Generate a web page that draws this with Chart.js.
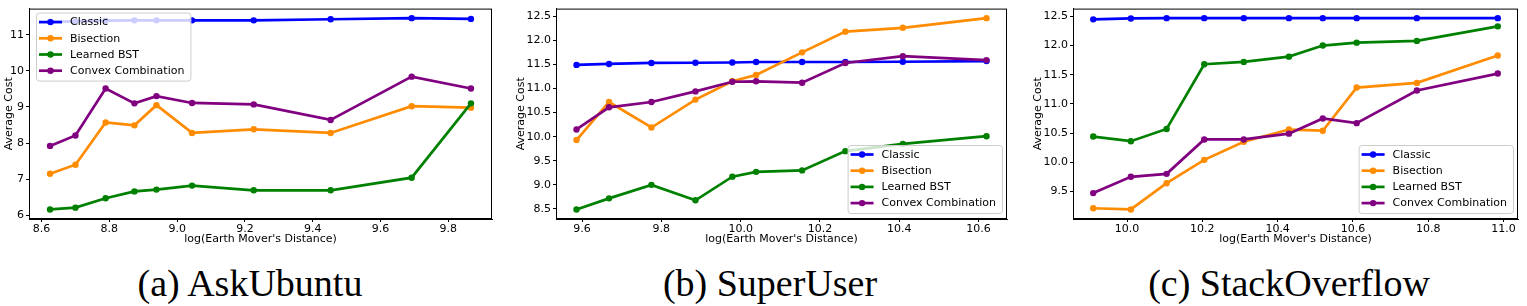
<!DOCTYPE html>
<html>
<head>
<meta charset="utf-8">
<script src="https://cdn.jsdelivr.net/npm/chart.js@4/dist/chart.umd.min.js"></script>
<style>
  body { margin: 0; background: #fff; width: 1527px; height: 306px; position: relative; overflow: hidden; }
  .panel { position: absolute; top: 0; }
  .cap { position: absolute; top: 264px; font-family: 'Liberation Serif', serif; font-size: 38px; line-height: 38px; white-space: nowrap; transform: translateX(-50%); color: #000; }
</style>
</head>
<body>
<div class="panel" style="left:0px"><canvas id="c1" width="509" height="250"></canvas></div>
<div class="panel" style="left:509px"><canvas id="c2" width="509" height="250"></canvas></div>
<div class="panel" style="left:1018px"><canvas id="c3" width="509" height="250"></canvas></div>
<div class="cap" style="left:250px">(a) AskUbuntu</div>
<div class="cap" style="left:770px">(b) SuperUser</div>
<div class="cap" style="left:1289px">(c) StackOverflow</div>
<script>
const seriesNames = ['Classic', 'Bisection', 'Learned BST', 'Convex Combination'];
const xTitle = "log(Earth Mover's Distance)";
const yTitle = 'Average Cost';

// (a) AskUbuntu
const askX = [8.625, 8.70, 8.789, 8.874, 8.939, 9.044, 9.226, 9.453, 9.692, 9.867];
const askClassic = [11.36, 11.37, 11.39, 11.40, 11.40, 11.40, 11.40, 11.43, 11.46, 11.44];
const askBisection = [7.15, 7.40, 8.57, 8.49, 9.05, 8.28, 8.38, 8.28, 9.02, 8.98];
const askLearned = [6.16, 6.21, 6.47, 6.66, 6.71, 6.82, 6.69, 6.69, 7.04, 9.10];
const askConvex = [7.92, 8.21, 9.51, 9.10, 9.30, 9.11, 9.07, 8.64, 9.84, 9.51];
const askXTicks = [8.6, 8.8, 9.0, 9.2, 9.4, 9.6, 9.8];
const askYTicks = [6, 7, 8, 9, 10, 11];

// (b) SuperUser
const suX = [9.586, 9.668, 9.775, 9.886, 9.979, 10.039, 10.155, 10.264, 10.409, 10.62];
const suClassic = [11.49, 11.51, 11.53, 11.535, 11.54, 11.55, 11.55, 11.55, 11.555, 11.57];
const suBisection = [9.93, 10.72, 10.19, 10.77, 11.15, 11.28, 11.75, 12.18, 12.26, 12.46];
const suLearned = [8.49, 8.72, 9.00, 8.68, 9.17, 9.27, 9.30, 9.70, 9.85, 10.01];
const suConvex = [10.15, 10.61, 10.72, 10.94, 11.14, 11.15, 11.12, 11.53, 11.67, 11.59];
const suXTicks = [9.6, 9.8, 10.0, 10.2, 10.4, 10.6];
const suYTicks = [8.5, 9.0, 9.5, 10.0, 10.5, 11.0, 11.5, 12.0, 12.5];

// (c) StackOverflow
const soX = [9.91, 10.01, 10.105, 10.205, 10.31, 10.43, 10.52, 10.61, 10.77, 10.985];
const soClassic = [12.45, 12.465, 12.47, 12.47, 12.47, 12.47, 12.47, 12.47, 12.47, 12.47];
const soBisection = [9.21, 9.19, 9.64, 10.04, 10.35, 10.56, 10.54, 11.28, 11.36, 11.83];
const soLearned = [10.44, 10.36, 10.57, 11.68, 11.72, 11.81, 12.00, 12.05, 12.08, 12.33];
const soConvex = [9.47, 9.75, 9.80, 10.39, 10.39, 10.49, 10.75, 10.67, 11.23, 11.52];
const soXTicks = [10.0, 10.2, 10.4, 10.6, 10.8, 11.0];
const soYTicks = [9.5, 10.0, 10.5, 11.0, 11.5, 12.0, 12.5];

const colors = ['#0000ff', '#ff8c00', '#008000', '#800080'];
const FONT = 'DejaVu Sans';

// frame around plot + matplotlib-like legend inside the axes
const framePlugin = {
  id: 'frameLegend',
  afterDatasetsDraw(chart, args, opts) {
    const { ctx, chartArea: a } = chart;
    ctx.save();
    ctx.font = `11px "${FONT}"`;
    const maxW = Math.max(...seriesNames.map(n => ctx.measureText(n).width));
    const w = 34 + maxW + 6, h = 68;
    const x0 = opts.loc === 'ul' ? a.left + 7 : a.right - 5 - w;
    const y0 = opts.loc === 'ul' ? a.top + 4 : a.bottom - 6 - h;
    ctx.beginPath();
    ctx.roundRect(x0 + 0.5, y0 + 0.5, w, h, 3);
    ctx.fillStyle = 'rgba(255,255,255,0.8)';
    ctx.fill();
    ctx.strokeStyle = '#cccccc';
    ctx.lineWidth = 1;
    ctx.stroke();
    seriesNames.forEach((name, i) => {
      const cy = y0 + 9.5 + i * 16.2;
      ctx.strokeStyle = colors[i];
      ctx.lineWidth = 2.7;
      ctx.beginPath();
      ctx.moveTo(x0 + 3, cy);
      ctx.lineTo(x0 + 26, cy);
      ctx.stroke();
      ctx.fillStyle = colors[i];
      ctx.beginPath();
      ctx.arc(x0 + 14.5, cy, 3.2, 0, Math.PI * 2);
      ctx.fill();
      ctx.fillStyle = '#000';
      ctx.textBaseline = 'middle';
      ctx.textAlign = 'left';
      ctx.fillText(name, x0 + 34, cy + 0.5);
    });
    ctx.strokeStyle = '#000';
    ctx.lineWidth = 1;
    ctx.strokeRect(a.left + 0.5, a.top + 0.5, a.right - a.left - 1, a.bottom - a.top - 1);
    ctx.restore();
  }
};

// matplotlib default 5% margins
function pad(vals) {
  const lo = Math.min(...vals), hi = Math.max(...vals);
  const m = (hi - lo) * 0.05;
  return [lo - m, hi + m];
}

function makeChart(id, xs, series, xTicks, yTicks, cfg) {
  const [xmin, xmax] = pad(xs);
  const [ymin, ymax] = pad(series.flat());
  const datasets = series.map((ys, i) => ({
    label: seriesNames[i],
    data: xs.map((x, j) => ({ x: x, y: ys[j] })),
    borderColor: colors[i],
    backgroundColor: colors[i],
    borderWidth: 2.7,
    pointRadius: 3.2,
    pointBorderWidth: 0,
    pointHoverRadius: 3.2,
    tension: 0,
    order: series.length - i
  }));
  const tickFont = { family: FONT, size: 11 };
  new Chart(document.getElementById(id), {
    type: 'line',
    data: { datasets },
    options: {
      responsive: false,
      animation: false,
      layout: { padding: { top: cfg.top, right: cfg.right, left: 0, bottom: 0 } },
      plugins: {
        legend: { display: false },
        tooltip: { enabled: false },
        frameLegend: { loc: cfg.loc }
      },
      scales: {
        x: {
          type: 'linear',
          min: xmin,
          max: xmax,
          afterBuildTicks: s => { s.ticks = xTicks.map(v => ({ value: v })); },
          afterFit: s => { s.height = 31; },
          grid: { drawOnChartArea: false, drawTicks: true, tickLength: 3, color: '#000' },
          border: { display: true, color: '#000' },
          ticks: { color: '#000', font: tickFont, padding: 1, maxRotation: 0, autoSkip: false,
                   callback: v => v.toFixed(1) },
          title: { display: true, text: xTitle, color: '#000', font: tickFont, padding: { top: 0, bottom: 4.5 } }
        },
        y: {
          min: ymin,
          max: ymax,
          afterBuildTicks: s => { s.ticks = yTicks.map(v => ({ value: v })); },
          afterFit: s => { s.width = cfg.yw; },
          grid: { drawOnChartArea: false, drawTicks: true, tickLength: 3, color: '#000' },
          border: { display: true, color: '#000' },
          ticks: { color: '#000', font: tickFont, padding: 2, autoSkip: false,
                   callback: v => v.toFixed(cfg.dec) },
          title: { display: true, text: yTitle, color: '#000', font: tickFont, padding: { top: cfg.tp, bottom: 0 } }
        }
      }
    },
    plugins: [framePlugin]
  });
}

makeChart('c1', askX, [askClassic, askBisection, askLearned, askConvex], askXTicks, askYTicks,
  { top: 3, right: 17, yw: 29, dec: 0, tp: 2.5, loc: 'ul' });
makeChart('c2', suX, [suClassic, suBisection, suLearned, suConvex], suXTicks, suYTicks,
  { top: 5, right: 11, yw: 47, dec: 1, tp: 5.5, loc: 'lr' });
makeChart('c3', soX, [soClassic, soBisection, soLearned, soConvex], soXTicks, soYTicks,
  { top: 4, right: 9, yw: 55, dec: 1, tp: 14, loc: 'lr' });
</script>
</body>
</html>
